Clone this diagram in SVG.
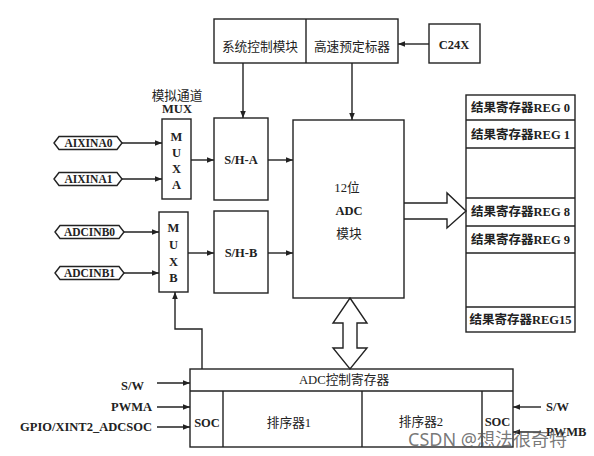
<svg xmlns="http://www.w3.org/2000/svg" width="594" height="456" viewBox="0 0 594 456">
<style>
.box{fill:none;stroke:#222;stroke-width:1.4}
.ln{fill:none;stroke:#222;stroke-width:1.4}
.t{font-family:"Liberation Serif","Noto Sans CJK SC",serif;font-weight:bold;font-size:12.5px;fill:#222}
.h{font-family:"Liberation Serif",serif;font-weight:bold;font-size:11.5px;fill:#222}
.c{font-family:"Liberation Serif","Noto Sans CJK SC",serif;font-size:12.7px;fill:#222}
.m{text-anchor:middle}
.e{text-anchor:end}
</style>
<defs>
<marker id="ah" viewBox="0 0 10 10" refX="10" refY="5" markerWidth="7" markerHeight="7" markerUnits="userSpaceOnUse" orient="auto">
<path d="M0,1 L10,5 L0,9 Z" fill="#222"/>
</marker>
</defs>
<rect width="594" height="456" fill="#fff"/>

<g id="sysctrl">
<rect class="box" x="214" y="19" width="184" height="44"/>
<line class="ln" x1="306" y1="19" x2="306" y2="63"/>
<text class="c m" x="260" y="51">系统控制模块</text>
<text class="c m" x="352" y="51">高速预定标器</text>
</g>
<g id="c24x">
<rect class="box" x="429" y="24" width="51" height="39"/>
<text class="t m" x="454" y="49">C24X</text>
</g>

<g id="mux-label">
<text class="c m" x="177" y="100">模拟通道</text>
<text class="t m" x="177" y="113">MUX</text>
</g>
<g id="muxa">
<rect class="box" x="162" y="119" width="29" height="80"/>
<text class="t m" x="176.5" y="141">M</text>
<text class="t m" x="176.5" y="157">U</text>
<text class="t m" x="176.5" y="173">X</text>
<text class="t m" x="176.5" y="189">A</text>
</g>
<g id="muxb">
<rect class="box" x="159" y="212" width="29" height="80"/>
<text class="t m" x="173.5" y="232">M</text>
<text class="t m" x="173.5" y="249">U</text>
<text class="t m" x="173.5" y="266">X</text>
<text class="t m" x="173.5" y="282">B</text>
</g>

<g id="aixina0">
<path class="box" d="M54,143 L59,136.5 L117,136.5 L122,143 L117,149.5 L59,149.5 Z"/>
<text class="h m" x="88.5" y="147.2">AIXINA0</text>
</g>
<g id="aixina1">
<path class="box" d="M54,179 L59,172.5 L117,172.5 L122,179 L117,185.5 L59,185.5 Z"/>
<text class="h m" x="88.5" y="183.2">AIXINA1</text>
</g>
<g id="adcinb0">
<path class="box" d="M55,232 L60,225.5 L119,225.5 L124,232 L119,238.5 L60,238.5 Z"/>
<text class="h m" x="89.5" y="236.2">ADCINB0</text>
</g>
<g id="adcinb1">
<path class="box" d="M55,273 L60,266.5 L119,266.5 L124,273 L119,279.5 L60,279.5 Z"/>
<text class="h m" x="89.5" y="277.2">ADCINB1</text>
</g>

<g id="sha">
<rect class="box" x="214" y="118" width="54" height="82"/>
<text class="t m" x="241" y="164">S/H-A</text>
</g>
<g id="shb">
<rect class="box" x="214" y="211" width="54" height="82"/>
<text class="t m" x="241" y="257">S/H-B</text>
</g>

<g id="adc">
<rect class="box" x="293" y="120" width="111" height="178"/>
<text class="c m" x="347" y="192">12位</text>
<text class="t m" x="349" y="215">ADC</text>
<text class="c m" x="349" y="238">模块</text>
</g>

<g id="regs">
<rect class="box" x="466" y="95" width="109" height="237"/>
<line class="ln" x1="466" y1="120" x2="575" y2="120"/>
<line class="ln" x1="466" y1="148" x2="575" y2="148"/>
<line class="ln" x1="466" y1="198" x2="575" y2="198"/>
<line class="ln" x1="466" y1="226" x2="575" y2="226"/>
<line class="ln" x1="466" y1="253" x2="575" y2="253"/>
<line class="ln" x1="466" y1="307" x2="575" y2="307"/>
<text class="t m" x="520.5" y="112">结果寄存器REG 0</text>
<text class="t m" x="520.5" y="139">结果寄存器REG 1</text>
<text class="t m" x="520.5" y="216">结果寄存器REG 8</text>
<text class="t m" x="520.5" y="244">结果寄存器REG 9</text>
<text class="t m" x="520.5" y="324">结果寄存器REG15</text>
</g>

<g id="ctrlreg">
<rect class="box" x="190" y="369" width="323" height="78"/>
<line class="ln" x1="190" y1="391" x2="513" y2="391"/>
<line class="ln" x1="223" y1="391" x2="223" y2="447"/>
<line class="ln" x1="362" y1="391" x2="362" y2="447"/>
<line class="ln" x1="482" y1="391" x2="482" y2="447"/>
<text class="c m" x="344" y="384">ADC控制寄存器</text>
<text class="t m" x="207" y="427">SOC</text>
<text class="c m" x="289" y="427">排序器1</text>
<text class="c m" x="421" y="426">排序器2</text>
<text class="t m" x="497.5" y="426">SOC</text>
</g>

<g id="inputs">
<text class="t e" x="144" y="390">S/W</text>
<text class="t e" x="152" y="411">PWMA</text>
<text class="t e" x="152" y="431">GPIO/XINT2_ADCSOC</text>
<text class="t" x="546" y="411">S/W</text>
<text class="t" x="546" y="436">PWMB</text>
</g>

<g id="connectors">
<line class="ln" x1="429" y1="44" x2="398" y2="44" marker-end="url(#ah)"/>
<line class="ln" x1="243" y1="63" x2="243" y2="118" marker-end="url(#ah)"/>
<line class="ln" x1="352" y1="63" x2="352" y2="120" marker-end="url(#ah)"/>
<line class="ln" x1="122" y1="143" x2="162" y2="143" marker-end="url(#ah)"/>
<line class="ln" x1="122" y1="179" x2="162" y2="179" marker-end="url(#ah)"/>
<line class="ln" x1="124" y1="232" x2="159" y2="232" marker-end="url(#ah)"/>
<line class="ln" x1="124" y1="273" x2="159" y2="273" marker-end="url(#ah)"/>
<line class="ln" x1="191" y1="160" x2="214" y2="160" marker-end="url(#ah)"/>
<line class="ln" x1="268" y1="160" x2="293" y2="160" marker-end="url(#ah)"/>
<line class="ln" x1="188" y1="253" x2="214" y2="253" marker-end="url(#ah)"/>
<line class="ln" x1="268" y1="253" x2="293" y2="253" marker-end="url(#ah)"/>
<path class="ln" d="M202,369 L202,329 L175,329 L175,292" marker-end="url(#ah)"/>
<line class="ln" x1="157" y1="383" x2="190" y2="383" marker-end="url(#ah)"/>
<line class="ln" x1="157" y1="407" x2="190" y2="407" marker-end="url(#ah)"/>
<line class="ln" x1="157" y1="427" x2="190" y2="427" marker-end="url(#ah)"/>
<line class="ln" x1="541" y1="407" x2="513" y2="407" marker-end="url(#ah)"/>
<line class="ln" x1="541" y1="432" x2="513" y2="432" marker-end="url(#ah)"/>
<path class="box" d="M404,203 L447,203 L447,193 L466,211 L447,228 L447,219 L404,219"/>
<path class="box" d="M350,298 L367,323 L357,323 L357,348 L367,348 L350,369 L333,348 L343,348 L343,323 L333,323 Z"/>
</g>

<text x="408" y="446" font-family="'Noto Sans','Noto Sans CJK SC',sans-serif" font-size="18" fill="#555" fill-opacity="0.8">CSDN @想法很奇特</text>
</svg>
